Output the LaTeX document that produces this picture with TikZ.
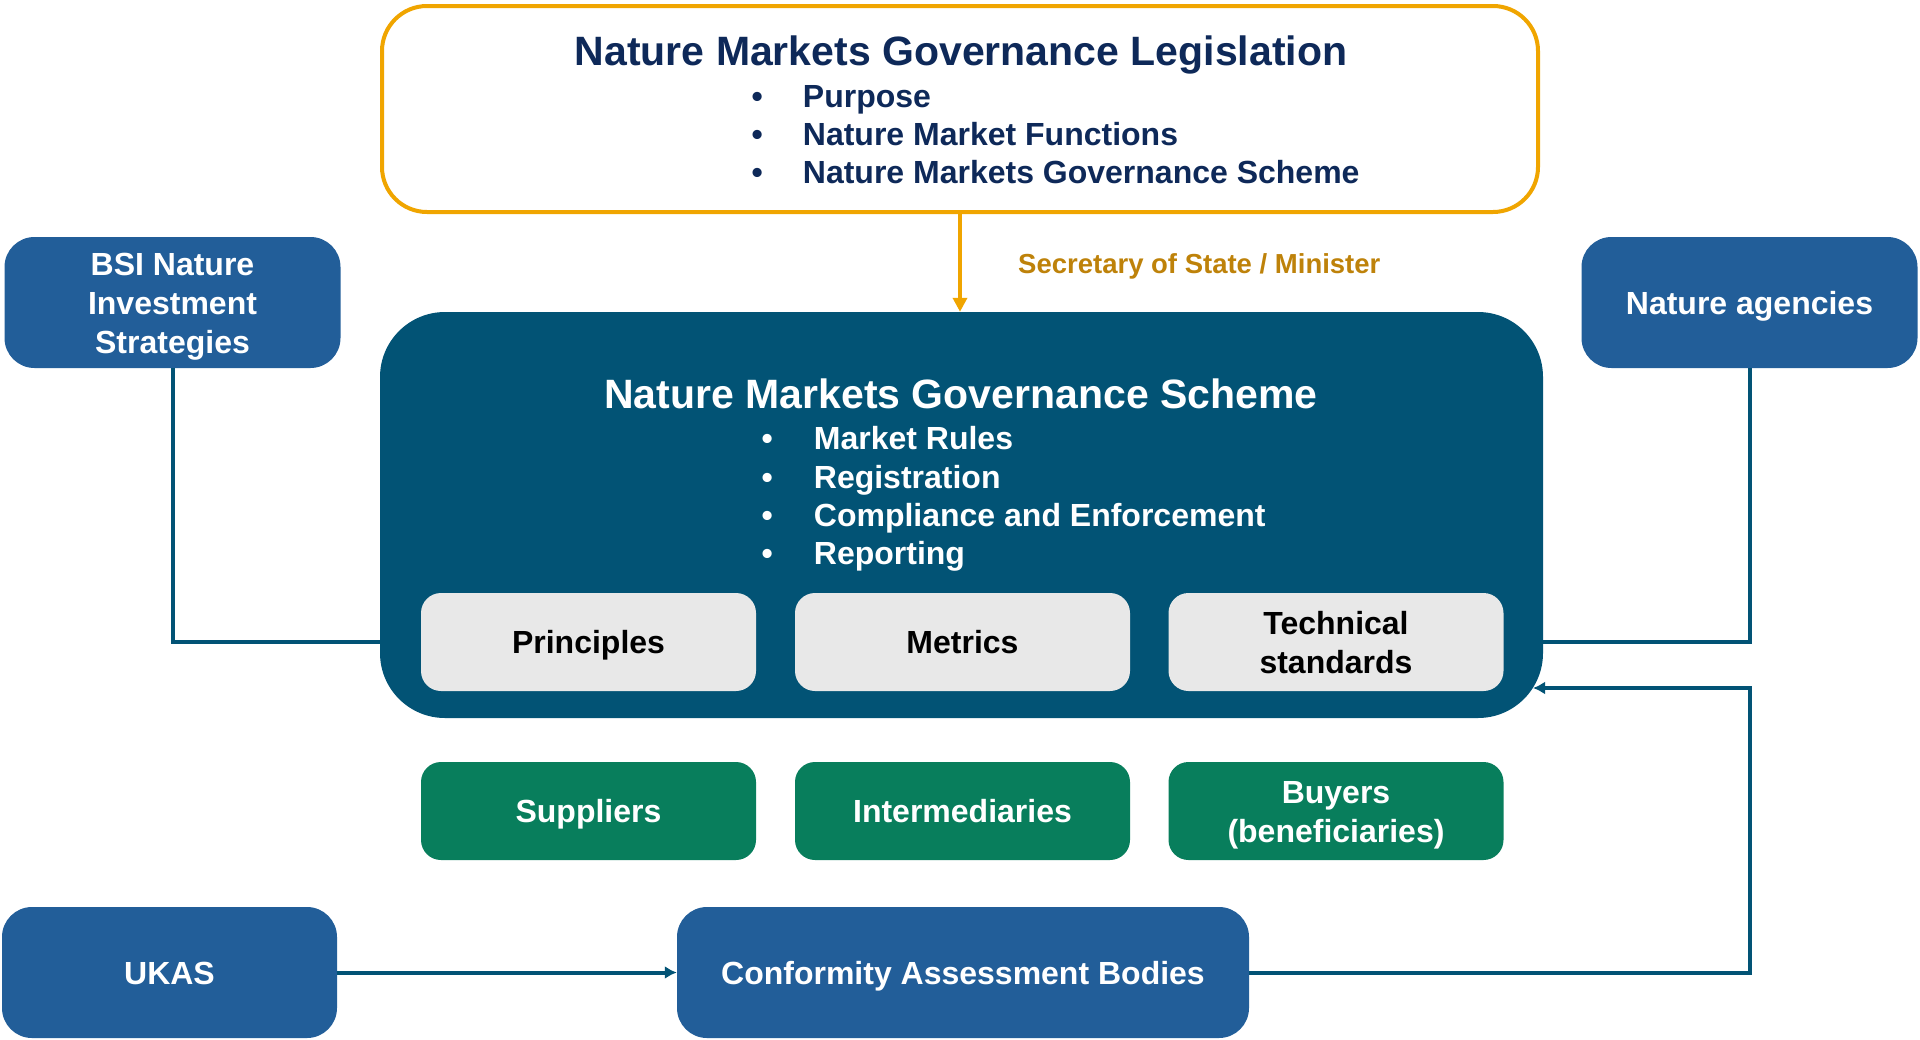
\documentclass[tikz,border=0pt]{standalone}
\usepackage{fontspec}
\setmainfont{Liberation Sans}
\usepackage{xcolor}
\usepackage{tikz}
\usetikzlibrary{arrows.meta}
\definecolor{legisorange}{RGB}{240,165,0}
\definecolor{navytext}{RGB}{14,41,89}
\definecolor{schemeteal}{RGB}{2,83,117}
\definecolor{bodyblue}{RGB}{34,94,153}
\definecolor{actorgreen}{RGB}{8,126,92}
\definecolor{toolgrey}{RGB}{232,232,232}
\definecolor{ministergold}{RGB}{190,130,10}
\newcommand{\lblstrut}{\rule[-7pt]{0pt}{37.5pt}}

\begin{document}
\begin{tikzpicture}[x=1pt,y=-1pt,
            every node/.style={font=\bfseries\fontsize{32}{39}\selectfont},
            labelbox/.style={align=center, inner sep=0pt, execute at begin node=\lblstrut, execute at end node=\lblstrut},
            bodybox/.style={labelbox, fill=bodyblue, text=white, rounded corners=30pt, minimum width=336pt, minimum height=131pt},
            toolbox/.style={labelbox, fill=toolgrey, text=black, rounded corners=20pt, minimum width=335pt, minimum height=98pt},
            actorbox/.style={toolbox, fill=actorgreen, text=white},
            listtext/.style={anchor=base west, inner sep=0pt},
            titletext/.style={anchor=base, inner sep=0pt, font=\bfseries\fontsize{41}{48}\selectfont},
            link/.style={draw=schemeteal, line width=4pt}]
            \useasboundingbox (0,0) rectangle (1920,1039);

            % legislation
            \node[draw=legisorange, line width=4pt, fill=white, rounded corners=45pt, minimum width=1156pt, minimum height=206pt] (legis) at (960,109) {};
            \node[titletext, text=navytext] (legtitle) at (961,65) {Nature Markets Governance Legislation};
            \node[listtext, text=navytext] (legpurpose) at (751.5,107) {\textbullet\hspace{40pt}Purpose};
            \node[listtext, text=navytext] (legfunctions) at (751.5,145) {\textbullet\hspace{40pt}Nature Market Functions};
            \node[listtext, text=navytext] (legscheme) at (751.5,183) {\textbullet\hspace{40pt}Nature Markets Governance Scheme};

            % scheme
            \node[fill=schemeteal, rounded corners=65pt, minimum width=1163pt, minimum height=406pt] (scheme) at (961.5,515) {};
            \node[titletext, text=white] (schtitle) at (961,408) {Nature Markets Governance Scheme};
            \node[listtext, text=white] (schrules) at (761.5,449) {\textbullet\hspace{41pt}Market Rules};
            \node[listtext, text=white] (schregister) at (761.5,488) {\textbullet\hspace{41pt}Registration};
            \node[listtext, text=white] (schcompliance) at (761.5,526) {\textbullet\hspace{41pt}Compliance and Enforcement};
            \node[listtext, text=white] (schreporting) at (761.5,564) {\textbullet\hspace{41pt}Reporting};

            \node[toolbox] (principles) at (588.5,642) {Principles};
            \node[toolbox] (metrics) at (962.5,642) {Metrics};
            \node[toolbox] (technical) at (1336,642) {\lblstrut Technical\\standards\lblstrut};

            % market actors
            \node[actorbox] (suppliers) at (588.5,811) {Suppliers};
            \node[actorbox] (intermediaries) at (962.5,811) {Intermediaries};
            \node[actorbox] (buyers) at (1336,811) {\lblstrut Buyers\\(beneficiaries)\lblstrut};

            % outside bodies
            \node[bodybox] (bsi) at (172.5,302.5) {\lblstrut BSI Nature\\Investment\\Strategies\lblstrut};
            \node[bodybox] (agencies) at (1749.5,302.5) {Nature agencies};
            \node[bodybox, minimum width=335pt] (ukas) at (169.5,972.5) {UKAS};
            \node[bodybox, minimum width=572pt] (cab) at (963,972.5) {Conformity Assessment Bodies};

            \coordinate (schemehit) at (1533,688);

            % connectors
            \draw[-{Triangle[length=14pt,width=14pt]}, legisorange, line width=4pt] (legis.south) -- (legis.south |- scheme.north);
            \node[anchor=base west, inner sep=0pt, text=ministergold, font=\bfseries\fontsize{27.5}{33}\selectfont] (minister) at (1018,273) {Secretary of State / Minister};
            \draw[link] (bsi.south) |- (scheme.west |- principles);
            \draw[link] (agencies.south) |- (scheme.east |- technical);
            \draw[link, -{Latex[length=12pt,width=13pt]}] (ukas.east) -- (cab.west);
            \draw[link, -{Latex[length=12pt,width=13pt]}] (cab.east) -| (agencies.south |- schemehit) -- (schemehit);
        \end{tikzpicture}
\end{document}
